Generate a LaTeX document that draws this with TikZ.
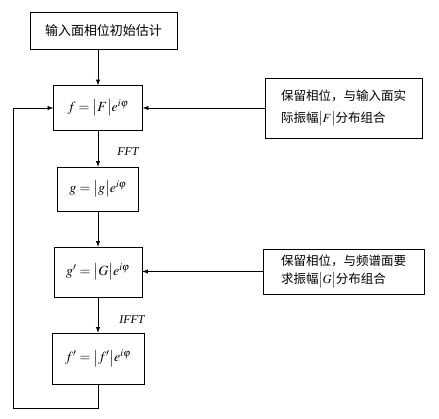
\documentclass[tikz,border=0pt]{standalone}
\usepackage{mathptmx}
\usepackage{fontspec}
\setmainfont{Liberation Serif}
\newfontfamily\cjk{Noto Sans CJK SC}
\usetikzlibrary{arrows.meta}

\begin{document}
\begin{tikzpicture}[x=1pt, y=-1pt,
  box/.style={draw, inner sep=0pt, font=\fontsize{14}{16}\selectfont},
  note/.style={draw, inner sep=0pt, align=left, font=\fontsize{12.5}{16}\selectfont\cjk},
  flow/.style={-Latex, semithick}]
  \useasboundingbox (0,0) rectangle (439,419);

  \node[box, minimum width=147pt, minimum height=37pt, font=\fontsize{13}{16}\selectfont\cjk] (init) at (103.5,30.5) {输入面相位初始估计};
  \node[box, minimum width=89pt, minimum height=45pt] (f) at (98,108) {$f=\big|F\big|e^{i\varphi}$};
  \node[box, minimum width=81pt, minimum height=44pt] (g) at (98,189) {$g=\big|g\big|e^{i\varphi}$};
  \node[box, minimum width=88pt, minimum height=50pt] (gp) at (98,272) {$g'=\big|G\big|e^{i\varphi}$};
  \node[box, minimum width=92pt, minimum height=51pt] (fp) at (98,358.5) {$f'=\big|f'\big|e^{i\varphi}$};

  \node[note, minimum width=157pt, minimum height=60pt] (keepF) at (343.5,108)
    {保留相位，与输入面实\\[6pt]际振幅$\big|F\big|$分布组合};
  \node[note, minimum width=161pt, minimum height=45pt] (keepG) at (343.5,271.5)
    {保留相位，与频谱面要\\[2pt]求振幅$\big|G\big|$分布组合};

  \node[font=\fontsize{12}{14}\selectfont\itshape] (fft) at (128,152) {FFT};
  \node[font=\fontsize{12}{14}\selectfont\itshape] (ifft) at (132,320) {IFFT};

  \coordinate (loop) at (13,408);

  \draw[flow] (init.south -| f.north) -- (f);
  \draw[flow] (f) -- (g);
  \draw[flow] (g) -- (gp);
  \draw[flow] (gp) -- (fp);
  \draw[flow] (keepF.west) -- (f.east);
  \draw[flow] (keepG.west) -- (keepG.west -| gp.east);
  \draw[flow] (fp.south) |- (loop) |- (f.west);
\end{tikzpicture}
\end{document}
